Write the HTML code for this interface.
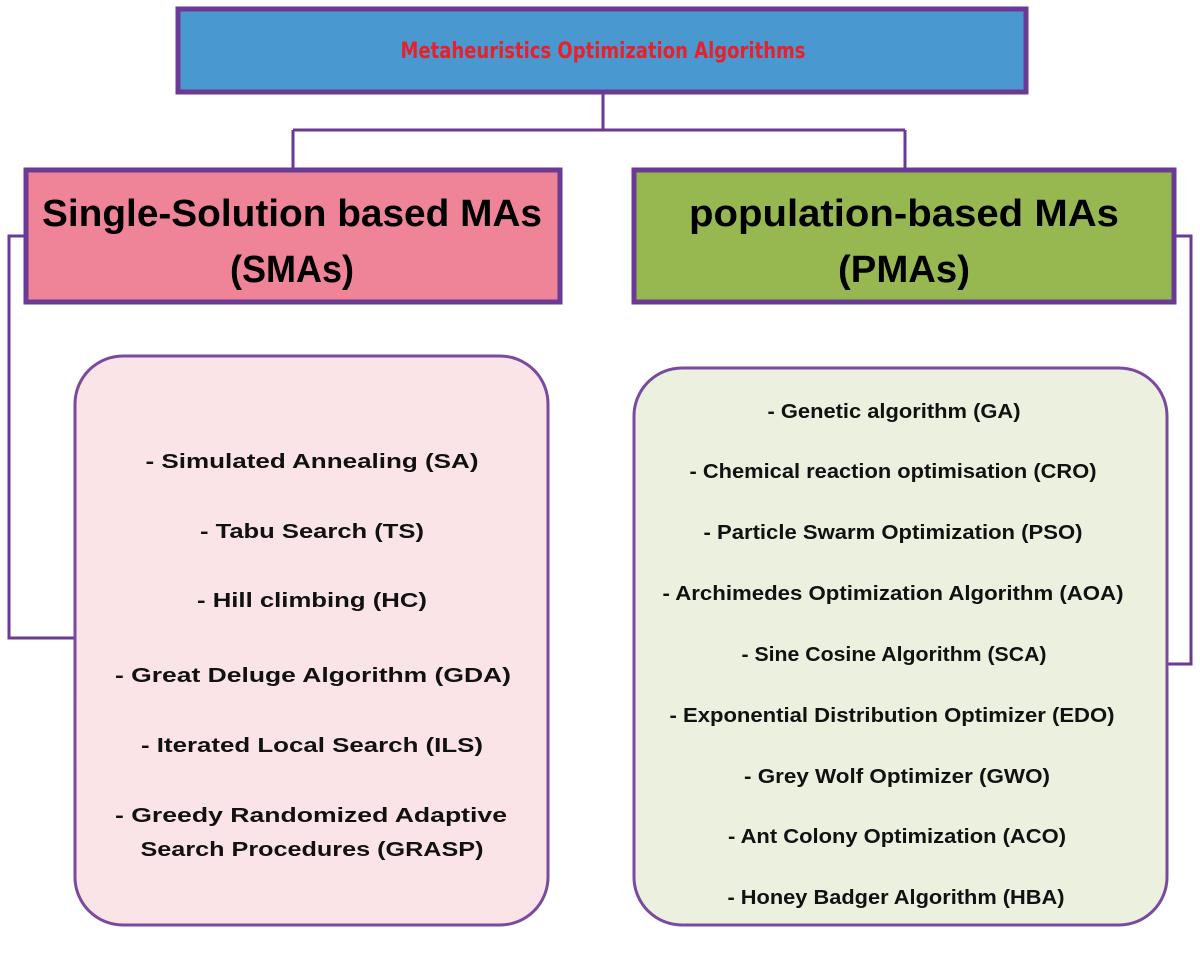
<!DOCTYPE html>
<html><head><meta charset="utf-8"><style>
html,body{margin:0;padding:0;background:#fff;}
svg{display:block;}
.t{font-family:"Liberation Sans",sans-serif;font-weight:bold;font-size:20px;fill:#111;}
.h{font-family:"Liberation Sans",sans-serif;font-weight:bold;font-size:38px;fill:#000;}
</style></head><body>
<svg width="1200" height="975" viewBox="0 0 1200 975" xmlns="http://www.w3.org/2000/svg">
<g stroke="#6a3a94" stroke-width="3" fill="none">
<path d="M603 92 V130 M293 130 H905 M293 130 V170 M905 130 V170"/>
<path d="M26 236 H9 V638 H76"/>
<path d="M1174 236 H1191 V664 H1166"/>
</g>
<rect x="178" y="9" width="848" height="83" fill="#4a98d0" stroke="#6a3a94" stroke-width="5"/>
<text x="603" y="58" text-anchor="middle" font-family="'Comic Sans MS','DejaVu Sans',sans-serif" font-weight="bold" font-size="22" fill="#e8202a" textLength="405" lengthAdjust="spacingAndGlyphs">Metaheuristics Optimization Algorithms</text>
<rect x="26" y="170" width="534" height="132" fill="#ef8397" stroke="#6a3a94" stroke-width="5"/>
<rect x="634" y="170" width="540" height="132" fill="#97b851" stroke="#6a3a94" stroke-width="5"/>
<text class="h" x="292" y="226" text-anchor="middle" textLength="500" lengthAdjust="spacingAndGlyphs">Single-Solution based MAs</text>
<text class="h" x="292" y="282" text-anchor="middle" textLength="124" lengthAdjust="spacingAndGlyphs">(SMAs)</text>
<text class="h" x="904" y="226" text-anchor="middle" textLength="430" lengthAdjust="spacingAndGlyphs">population-based MAs</text>
<text class="h" x="904" y="282" text-anchor="middle" textLength="132" lengthAdjust="spacingAndGlyphs">(PMAs)</text>
<rect x="75" y="356" width="473" height="569" rx="48" fill="#fbe4e8" stroke="#7a4a9e" stroke-width="3"/>
<rect x="634" y="368" width="533" height="557" rx="48" fill="#ebf0df" stroke="#7a4a9e" stroke-width="3"/>
<g class="t" text-anchor="middle">
<text x="312" y="468" textLength="333" lengthAdjust="spacingAndGlyphs">- Simulated Annealing (SA)</text>
<text x="312" y="538" textLength="224" lengthAdjust="spacingAndGlyphs">- Tabu Search (TS)</text>
<text x="312" y="607" textLength="230" lengthAdjust="spacingAndGlyphs">- Hill climbing (HC)</text>
<text x="313" y="682" textLength="396" lengthAdjust="spacingAndGlyphs">- Great Deluge Algorithm (GDA)</text>
<text x="312" y="752" textLength="342" lengthAdjust="spacingAndGlyphs">- Iterated Local Search (ILS)</text>
<text x="311" y="822" textLength="392" lengthAdjust="spacingAndGlyphs">- Greedy Randomized Adaptive</text>
<text x="312" y="856" textLength="343" lengthAdjust="spacingAndGlyphs">Search Procedures (GRASP)</text>
<text x="894" y="418" textLength="253" lengthAdjust="spacingAndGlyphs">- Genetic algorithm (GA)</text>
<text x="893" y="478" textLength="407" lengthAdjust="spacingAndGlyphs">- Chemical reaction optimisation (CRO)</text>
<text x="893" y="539" textLength="379" lengthAdjust="spacingAndGlyphs">- Particle Swarm Optimization (PSO)</text>
<text x="893" y="600" textLength="461" lengthAdjust="spacingAndGlyphs">- Archimedes Optimization Algorithm (AOA)</text>
<text x="894" y="661" textLength="305" lengthAdjust="spacingAndGlyphs">- Sine Cosine Algorithm (SCA)</text>
<text x="892" y="722" textLength="445" lengthAdjust="spacingAndGlyphs">- Exponential Distribution Optimizer (EDO)</text>
<text x="897" y="783" textLength="306" lengthAdjust="spacingAndGlyphs">- Grey Wolf Optimizer (GWO)</text>
<text x="897" y="843" textLength="338" lengthAdjust="spacingAndGlyphs">- Ant Colony Optimization (ACO)</text>
<text x="896" y="904" textLength="337" lengthAdjust="spacingAndGlyphs">- Honey Badger Algorithm (HBA)</text>
</g>
</svg>
</body></html>
